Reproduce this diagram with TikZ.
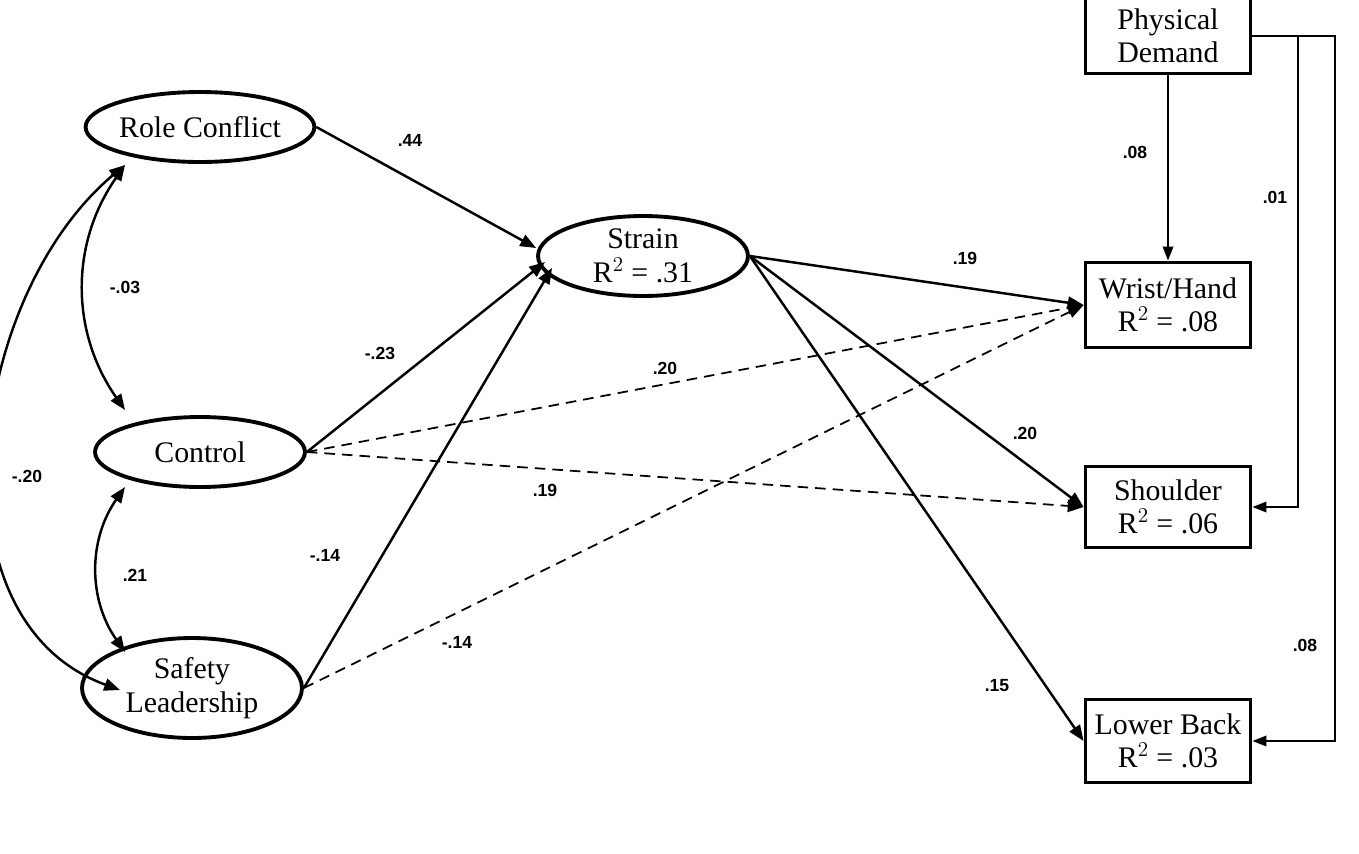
\documentclass[tikz,border=0pt]{standalone}
\usepackage{fontspec}
\setmainfont{Liberation Serif}
\newfontfamily\lab{Liberation Sans}
\usetikzlibrary{shapes.geometric,arrows.meta}
\begin{document}
\begin{tikzpicture}[x=0.02cm,y=-0.02cm,
 lat/.style={ellipse,draw,line width=2.2pt,inner sep=0pt,font=\fontsize{17}{19}\selectfont,align=center},
 obs/.style={rectangle,draw,line width=2.2pt,minimum width=3.3cm,font=\fontsize{17}{19}\selectfont,align=center},
 arr/.style={-{Triangle[length=9pt,width=7pt]},line width=1.4pt},
 darr/.style={-{Triangle[length=9pt,width=7pt]},line width=1pt,dash pattern=on 6pt off 4pt},
 thin/.style={-{Triangle[length=8pt,width=6pt]},line width=1pt},
 dbl/.style={{Triangle[length=9pt,width=7pt]}-{Triangle[length=9pt,width=7pt]},line width=1.4pt},
 lb/.style={font=\lab\bfseries\fontsize{10}{12}\selectfont}]
\useasboundingbox (0,0) rectangle (1359,853);
\node[lat,minimum width=4.2cm,minimum height=1.4cm] (rc) at (200,127) {Role Conflict};
\node[lat,minimum width=4.2cm,minimum height=1.4cm] (ct) at (200,452) {Control};
\node[lat,minimum width=4.4cm,minimum height=2cm] (sl) at (192,688) {Safety\\Leadership};
\node[lat,minimum width=4.2cm,minimum height=1.6cm] (st) at (643,256) {Strain\\R$^2$ = .31};
\node[obs,minimum height=1.5cm] (pd) at (1168,36) {Physical\\Demand};
\node[obs,minimum height=1.7cm] (wh) at (1168,305) {Wrist/Hand\\R$^2$ = .08};
\node[obs,minimum height=1.62cm] (sh) at (1168,507) {Shoulder\\R$^2$ = .06};
\node[obs,minimum height=1.66cm] (lo) at (1168,741) {Lower Back\\R$^2$ = .03};
\draw[arr] (rc.east) -- (st.west|-0,248) coordinate (s1);
\draw[arr] (ct.east) -- (545,262);
\draw[arr] (sl.east) -- (552,268);
\draw[arr] (st.east) -- (wh.west);
\draw[arr] (st.east) -- (sh.west);
\draw[arr] (st.east) -- (lo.west);
\draw[darr] (ct.east) -- (wh.west);
\draw[darr] (ct.east) -- (sh.west);
\draw[darr] (sl.east) -- (wh.west);
\draw[thin] (pd.south) -- (wh.north);
\coordinate (p1) at (1298,36); \coordinate (p2) at (1335,36);
\draw[thin] (pd.east) -- (p2) -- (p2|-lo.east) -- (lo.east);
\draw[thin] (p1) -- (p1|-sh.east) -- (sh.east);
\draw[dbl] (125,165) to[out=235,in=125] (125,410);
\draw[dbl] (125,487) to[out=235,in=125] (125,652);
\draw[dbl] (125,165) to[out=220,in=160] (120,690);
\node[lb] at (410,140) {.44};
\node[lb] at (380,353) {-.23};
\node[lb] at (325,555) {-.14};
\node[lb] at (125,287) {-.03};
\node[lb] at (135,575) {.21};
\node[lb] at (27,476) {-.20};
\node[lb] at (965,258) {.19};
\node[lb] at (1025,433) {.20};
\node[lb] at (997,686) {.15};
\node[lb] at (665,368) {.20};
\node[lb] at (545,490) {.19};
\node[lb] at (457,642) {-.14};
\node[lb] at (1135,152) {.08};
\node[lb] at (1275,197) {.01};
\node[lb] at (1305,645) {.08};
\end{tikzpicture}
\end{document}
